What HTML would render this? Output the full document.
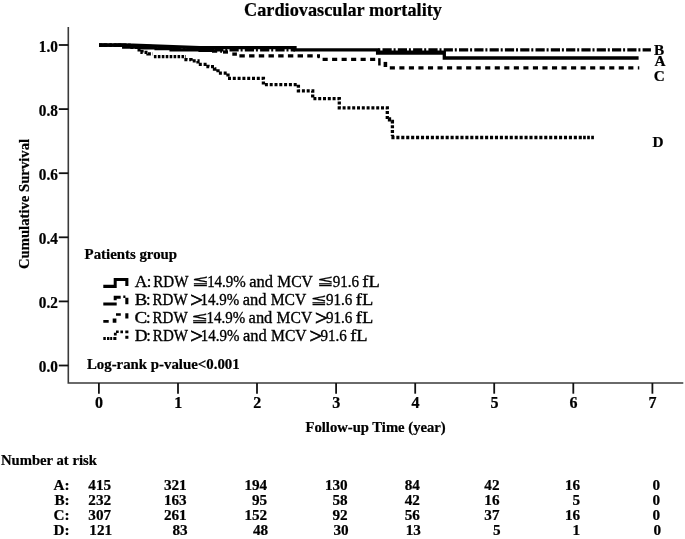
<!DOCTYPE html>
<html><head><meta charset="utf-8"><title>Cardiovascular mortality</title>
<style>
html,body{margin:0;padding:0;background:#fff;}
body{width:685px;height:539px;overflow:hidden;}
svg{display:block;}
text{font-family:"Liberation Serif","Noto Serif CJK SC",serif;fill:#000;}
#lg text{font-family:"Liberation Serif","DejaVu Sans","Noto Serif CJK SC",serif;stroke:#000;stroke-width:0.35;}
.b{font-weight:bold;stroke:#000;stroke-width:0.22;}
.ax{stroke:#3a3a3a;stroke-width:1.6;fill:none;}
.tk{stroke:#111;stroke-width:1.8;fill:none;}
.cv{stroke:#000;stroke-width:3.3;fill:none;stroke-linejoin:miter;}
</style></head><body>
<svg width="685" height="539" viewBox="0 0 685 539">
<rect width="685" height="539" fill="#fff"/>
<!-- title -->
<text class="b" x="343" y="16" font-size="18.25" text-anchor="middle">Cardiovascular mortality</text>
<!-- axes -->
<path class="ax" d="M68.3,27 V383 H683.3"/>
<g class="tk">
<path d="M58.8,45H68.3"/><path d="M58.8,109.1H68.3"/><path d="M58.8,173.2H68.3"/><path d="M58.8,237.3H68.3"/><path d="M58.8,301.4H68.3"/><path d="M58.8,365.5H68.3"/>
<path d="M98.9,383V393.7"/><path d="M178.0,383V393.7"/><path d="M257.0,383V393.7"/><path d="M336.1,383V393.7"/><path d="M415.2,383V393.7"/><path d="M494.2,383V393.7"/><path d="M573.3,383V393.7"/><path d="M652.4,383V393.7"/>
</g>
<g class="b" font-size="16" text-anchor="end" transform="translate(57.9,0) scale(0.955,1)">
<text x="0" y="51.9">1.0</text><text x="0" y="116.0">0.8</text><text x="0" y="180.1">0.6</text><text x="0" y="244.2">0.4</text><text x="0" y="308.3">0.2</text><text x="0" y="372.4">0.0</text>
</g>
<g class="b" font-size="16" text-anchor="middle">
<text x="99.1" y="407.5">0</text><text x="178.2" y="407.5">1</text><text x="257.2" y="407.5">2</text><text x="336.3" y="407.5">3</text><text x="415.4" y="407.5">4</text><text x="494.4" y="407.5">5</text><text x="573.5" y="407.5">6</text><text x="652.6" y="407.5">7</text>
</g>
<text class="b" font-size="14.7" text-anchor="middle" transform="translate(28.6,204) rotate(-90)">Cumulative Survival</text>
<text class="b" font-size="14.65" text-anchor="middle" x="375.6" y="431.8">Follow-up Time (year)</text>
<!-- curves -->
<path class="cv" id="cD" stroke-width="3.4" stroke-dasharray="3.0 1.8" d="M99,45.1 H132 V47.3 H136.5 V49.8 H142 V52.4 H148 V53.8 H153"/>
<path class="cv" stroke-width="3.3" stroke-dasharray="2.6 1.34" d="M153.9,56.7 H186"/>
<path class="cv" stroke-width="3.4" stroke-dasharray="3.0 1.8" d="M186,58 V59.6 H191 V60.9 H198 V64.4 H208 V66.6 H214.5 V69 H218 V73.1 H228 V78.4 H263.4 V84.7 H298.4 V90.9 H312.7 V98.6 H339.3 V107.8 H387.3 V119 H389.5 V121.5 H392.4 V136"/>
<path class="cv" stroke-width="3.4" stroke-dasharray="3.1 1.83" d="M391.4,137.5 H581.9"/>
<path class="cv" stroke-width="3.4" stroke-dasharray="2.7 1.35" d="M583.1,137.5 H594"/>
<g class="cv" id="cC">
<path stroke-width="3.1" d="M99,45.1 H123.6 V47.1 H140 V47.9 H156 V48.8 H171 V49.9 H200 V50.5 H214"/>
<path stroke-dasharray="5.2 3" d="M212,51.1 H222"/>
<path d="M223,52 H228"/>
<path d="M232.3,54.1 H236.9"/>
<path stroke-dasharray="5.4 4.3" d="M239.4,55.8 H320"/>
<path stroke-width="2" d="M318.6,57 V58.2"/>
<path stroke-dasharray="5.1 4.4" d="M322.6,59.3 H376"/>
<path stroke-width="2.5" d="M379.4,58.2 V65.5"/>
<path stroke-width="3.6" d="M385.4,61.9 V67"/>
<path stroke-dasharray="5.1 4.44" d="M389.8,67.9 H639.3"/>
</g>
<g class="cv" id="cB">
<path stroke-width="3.1" stroke-dasharray="8.6 2.3 2.1 2.3" d="M99,45.1 H128 V46.3 H150 V47.3 H170 V48.4 H185 V49.2 H198.9 V49.8"/>
<path stroke-dasharray="9.2 1.9 2.0 2.2" d="M198.9,49.8 H295"/>
<path stroke-dasharray="9.2 1.9 2.0 2.2" stroke-dashoffset="10.4" d="M377.6,49.8 H650.9"/>
</g>
<path class="cv" id="cA" d="M99,45.1 H133 L200,47.7 H295 V49.8 H377.6 V53 H444.3 V58 H638.6"/>
<path stroke="#000" stroke-width="1.6" d="M376,51.4 H445.9"/>
<!-- end labels -->
<g class="b" font-size="15.3">
<text x="653.9" y="54.5">B</text><text x="654.4" y="65.8">A</text><text x="653.8" y="80.9">C</text><text x="652.6" y="146.8">D</text>
</g>
<!-- legend -->
<text class="b" font-size="14.85" x="84.6" y="258.5">Patients group</text>
<g id="lg" font-size="16.4">
<text transform="translate(134.77,286.50) scale(1.067,1)">A</text><text transform="translate(146.65,286.50) scale(1.000,1)">:</text><text transform="translate(153.24,286.50) scale(0.919,1)">RDW</text><text font-size="13.0" style="stroke-width:0.22" transform="translate(192.15,285.48) scale(1.563,1)">≦</text><text transform="translate(207.13,286.50) scale(0.914,1)">14.9%</text><text transform="translate(249.27,286.50) scale(1.005,1)">and</text><text transform="translate(277.32,286.50) scale(0.953,1)">MCV</text><text font-size="13.0" style="stroke-width:0.22" transform="translate(317.54,285.48) scale(1.502,1)">≦</text><text transform="translate(332.64,286.50) scale(0.919,1)">91.6</text><text transform="translate(362.34,286.50) scale(1.129,1)">fL</text>
<text transform="translate(134.73,304.80) scale(1.143,1)">B</text><text transform="translate(145.95,304.80) scale(1.000,1)">:</text><text transform="translate(152.54,304.80) scale(0.919,1)">RDW</text><text font-size="21.45" style="stroke-width:0.7" transform="translate(190.31,306.90) scale(1.060,1)">&gt;</text><text transform="translate(200.53,304.80) scale(0.914,1)">14.9%</text><text transform="translate(242.67,304.80) scale(1.005,1)">and</text><text transform="translate(270.72,304.80) scale(0.953,1)">MCV</text><text font-size="13.0" style="stroke-width:0.22" transform="translate(310.94,303.78) scale(1.502,1)">≦</text><text transform="translate(326.04,304.80) scale(0.919,1)">91.6</text><text transform="translate(355.74,304.80) scale(1.129,1)">fL</text>
<text transform="translate(134.57,323.00) scale(1.163,1)">C</text><text transform="translate(145.95,323.00) scale(1.000,1)">:</text><text transform="translate(152.54,323.00) scale(0.919,1)">RDW</text><text font-size="13.0" style="stroke-width:0.22" transform="translate(191.45,321.98) scale(1.563,1)">≦</text><text transform="translate(206.43,323.00) scale(0.914,1)">14.9%</text><text transform="translate(248.57,323.00) scale(1.005,1)">and</text><text transform="translate(276.62,323.00) scale(0.953,1)">MCV</text><text font-size="21.45" style="stroke-width:0.7" transform="translate(315.01,325.10) scale(1.060,1)">&gt;</text><text transform="translate(326.04,323.00) scale(0.919,1)">91.6</text><text transform="translate(355.74,323.00) scale(1.129,1)">fL</text>
<text transform="translate(134.76,341.30) scale(1.082,1)">D</text><text transform="translate(146.25,341.30) scale(1.000,1)">:</text><text transform="translate(152.84,341.30) scale(0.919,1)">RDW</text><text font-size="21.45" style="stroke-width:0.7" transform="translate(190.31,343.40) scale(1.060,1)">&gt;</text><text transform="translate(200.83,341.30) scale(0.914,1)">14.9%</text><text transform="translate(242.97,341.30) scale(1.005,1)">and</text><text transform="translate(271.02,341.30) scale(0.953,1)">MCV</text><text font-size="21.45" style="stroke-width:0.7" transform="translate(309.41,343.40) scale(1.060,1)">&gt;</text><text transform="translate(320.44,341.30) scale(0.919,1)">91.6</text><text transform="translate(350.14,341.30) scale(1.129,1)">fL</text>
</g>
<g id="ic" fill="#000" stroke="none">
<path d="M103.3,284.7H113.7V278H128.4V286H125.3V281.1H116.7V288H103.3Z"/>
<path d="M103.3,302.4H116.7V305.4H103.3Z M113.7,295.7H120.7V298.7H116.7V300.2H113.7Z M123.3,295.4H125.4V298H123.3Z M125.3,297.8H128.4V304.2H125.3Z"/>
<path d="M103.3,320H108.7V322.8H103.3Z M112.7,318.6H116.4V322.8H112.7Z M116,313.2H120.8V315.8H116Z M125.3,313.2H128.4V318.5H125.3Z"/>
<path d="M103.3,337H105.8V340H103.3Z M107,337H109.4V340H107Z M110.2,337H112.2V340H110.2Z M113.3,337H116.4V340H113.3Z M113.9,332.8H116.7V335.4H113.9Z M116,330.6H118.7V333.1H116Z M120.4,330.6H123V333.2H120.4Z M125.3,330.6H128.4V333.3H125.3Z M125.3,335.7H128.4V338.8H125.3Z"/>
</g>
<text class="b" font-size="14.85" x="86.9" y="368.9">Log-rank p-value&lt;0.001</text>
<!-- number at risk -->
<text class="b" font-size="14.67" x="1.0" y="464.7">Number at risk</text>
<g id="tb" class="b" font-size="15.2" text-anchor="end">
<text x="69.6" y="490.3">A:</text><text x="111.1" y="490.3">415</text><text x="186.7" y="490.3">321</text><text x="267.2" y="490.3">194</text><text x="347.7" y="490.3">130</text><text x="419.9" y="490.3">84</text><text x="499.5" y="490.3">42</text><text x="580.2" y="490.3">16</text><text x="660.2" y="490.3">0</text>
<text x="69.6" y="505.1">B:</text><text x="111.1" y="505.1">232</text><text x="186.7" y="505.1">163</text><text x="267.2" y="505.1">95</text><text x="347.7" y="505.1">58</text><text x="419.9" y="505.1">42</text><text x="499.5" y="505.1">16</text><text x="580.2" y="505.1">5</text><text x="660.2" y="505.1">0</text>
<text x="69.6" y="520.2">C:</text><text x="111.1" y="520.2">307</text><text x="186.7" y="520.2">261</text><text x="267.2" y="520.2">152</text><text x="347.7" y="520.2">92</text><text x="419.9" y="520.2">56</text><text x="499.5" y="520.2">37</text><text x="580.2" y="520.2">16</text><text x="660.2" y="520.2">0</text>
<text x="69.6" y="535.3">D:</text><text x="112.1" y="535.3">121</text><text x="187.7" y="535.3">83</text><text x="268.2" y="535.3">48</text><text x="348.7" y="535.3">30</text><text x="420.9" y="535.3">13</text><text x="500.5" y="535.3">5</text><text x="580.0" y="535.3">1</text><text x="661.2" y="535.3">0</text>
</g>
</svg>
</body></html>
